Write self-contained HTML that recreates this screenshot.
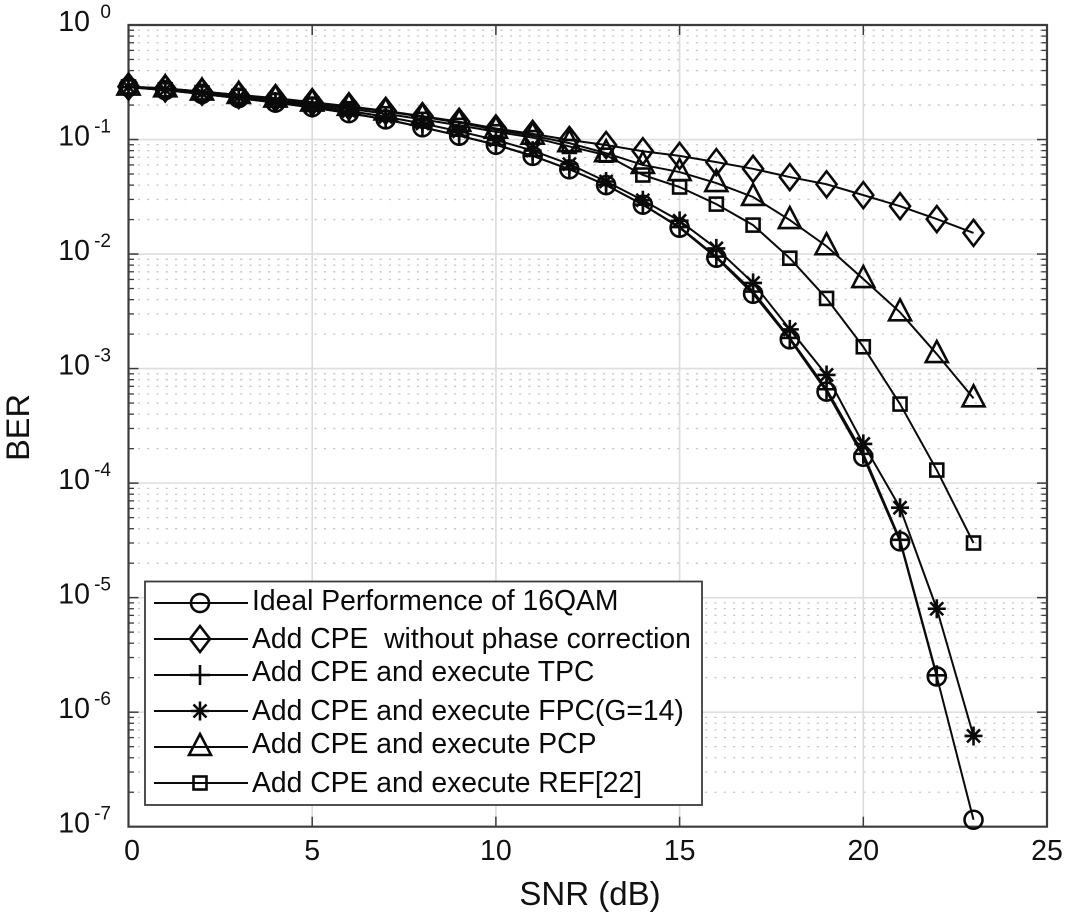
<!DOCTYPE html>
<html lang="en">
<head>
<meta charset="utf-8">
<title>BER vs SNR</title>
<style>
html,body{margin:0;padding:0;background:#fff;}
svg{display:block;font-family:"Liberation Sans",sans-serif;}
</style>
</head>
<body>
<svg id="chart" xmlns="http://www.w3.org/2000/svg" width="1065" height="916" viewBox="0 0 1065 916"></svg>
<script>
const snr = [0,1,2,3,4,5,6,7,8,9,10,11,12,13,14,15,16,17,18,19,20,21,22,23];
const berIdeal = [.287,.27,.25,.23,.21,.192,.17,.15,.128,.108,.09,.072,.055,.04,.027,.017,.0093,.0045,.0018,.00063,.00017,3.1e-5,2.05e-6,1.15e-7];
const berNoCorrection = [.29,.28,.262,.245,.23,.212,.195,.178,.16,.143,.125,.112,.099,.0895,.079,.072,.0635,.0555,.047,.0407,.0327,.0262,.0202,.0153];
const berTpc = [.287,.27,.25,.23,.21,.19,.17,.15,.128,.108,.09,.072,.055,.04,.027,.0172,.0095,.0047,.00185,.00066,.00018,3.2e-5,2.1e-6];
const berFpc = [.288,.272,.254,.235,.215,.197,.178,.158,.138,.118,.099,.08,.061,.043,.0295,.0195,.0112,.0056,.0022,.00088,.00022,6.1e-5,8e-6,6.2e-7];
const berPcp = [.29,.28,.262,.245,.228,.21,.193,.176,.158,.14,.122,.108,.093,.076,.06,.052,.0417,.0315,.0198,.0117,.00605,.0031,.00134,.00055];
const berRef = [.288,.272,.255,.238,.22,.203,.186,.168,.15,.133,.117,.104,.087,.073,.049,.0385,.0273,.0179,.0092,.0041,.00155,.00049,.00013,3e-5];
const xTicks = [0,5,10,15,20,25];
const yExponents = [0,-1,-2,-3,-4,-5,-6,-7];
const minorFactors = [2,3,4,5,6,7,8,9];
const legendLabels = ["Ideal Performence of 16QAM","Add CPE\u00a0 without phase correction","Add CPE and execute TPC","Add CPE and execute FPC(G=14)","Add CPE and execute PCP","Add CPE and execute REF[22]"];

const NS = "http://www.w3.org/2000/svg";
const svg = document.getElementById("chart");
const L = 128.5, R = 1047, T = 25, B = 826.7;
const sx = v => L + (R - L) * v / 25;
const sy = v => T + (B - T) * (-Math.log10(v)) / 7;

function make(tag, attrs, parent, text) {
  const el = document.createElementNS(NS, tag);
  for (const k in attrs) el.setAttribute(k, attrs[k]);
  if (text !== undefined) el.textContent = text;
  (parent || svg).appendChild(el);
  return el;
}

const grid = make("g", {});


yExponents.slice(1).forEach(e => {
  minorFactors.forEach(f => {
    const y = sy(f * Math.pow(10, e));
    make("line", {x1:L,x2:R,y1:y,y2:y,stroke:"#c6c6c6","stroke-width":1.3,"stroke-dasharray":"2.2 7.1"}, grid);
  });
});
yExponents.forEach(e => {
  const y = sy(Math.pow(10, e));
  make("line", {x1:L,x2:R,y1:y,y2:y,stroke:"#dedede","stroke-width":1.6}, grid);
});
xTicks.forEach(v => {
  make("line", {x1:sx(v),x2:sx(v),y1:T,y2:B,stroke:"#dcdcdc","stroke-width":1.6}, grid);
});

const axes = make("g", {});


const tickColor = "#3c3c3c";
xTicks.forEach(v => {
  const x = sx(v);
  make("line", {x1:x,x2:x,y1:B,y2:B-10,stroke:tickColor,"stroke-width":1.5}, axes);
  make("line", {x1:x,x2:x,y1:T,y2:T+10,stroke:tickColor,"stroke-width":1.5}, axes);
  const t = make("text", {x:v===0?132:x,y:860,"font-size":28.5,"text-anchor":"middle",fill:"#111"}, axes, String(v));
  
  
});
yExponents.forEach(e => {
  const y = sy(Math.pow(10, e));
  make("line", {x1:L,x2:L+10,y1:y,y2:y,stroke:tickColor,"stroke-width":1.5}, axes);
  make("line", {x1:R,x2:R-10,y1:y,y2:y,stroke:tickColor,"stroke-width":1.5}, axes);
  if (e > -7) minorFactors.forEach(f => {
    const my = sy(f * Math.pow(10, e - 1));
    make("line", {x1:L,x2:L+5.5,y1:my,y2:my,stroke:tickColor,"stroke-width":1.3}, axes);
    make("line", {x1:R,x2:R-5.5,y1:my,y2:my,stroke:tickColor,"stroke-width":1.3}, axes);
  });
  const t = make("text", {x:90,y:y+6,"font-size":28.5,"text-anchor":"end",fill:"#111"}, axes, "10");
  
  
  const s = make("text", {x:111,y:y-7,"font-size":19,"text-anchor":"end",fill:"#111"}, axes, String(e));
  
  
});
make("path", {d:`M${L} ${T}H${R}V${B}H${L}Z`,fill:"none",stroke:"#3c3c3c","stroke-width":2.2}, axes);

const xTitle = make("text", {x:590,y:905,"font-size":33,"text-anchor":"middle",fill:"#111"}, svg, "SNR (dB)");


const yTitle = make("text", {x:0,y:0,"font-size":32.5,"text-anchor":"middle",fill:"#111",transform:"translate(29 427.5) rotate(-90)"}, svg, "BER");



function marker(kind, x, y, parent) {
  const st = {fill:"none",stroke:"#0a0a0a","stroke-width":2.6};
  const shape = (tag, a) => make(tag, Object.assign({}, st, a), parent);
  if (kind === "circle") shape("circle", {cx:x,cy:y,r:9});
  else if (kind === "diamond") shape("path", {d:`M${x} ${y-13}L${x+10} ${y}L${x} ${y+13}L${x-10} ${y}Z`});
  else if (kind === "plus") shape("path", {d:`M${x-10} ${y}H${x+10}M${x} ${y-10}V${y+10}`});
  else if (kind === "star") shape("path", {d:`M${x-9} ${y}H${x+9}M${x} ${y-9.5}V${y+9.5}M${x-6.5} ${y-6.5}L${x+6.5} ${y+6.5}M${x-6.5} ${y+6.5}L${x+6.5} ${y-6.5}`});
  else if (kind === "triangle") shape("path", {d:`M${x} ${y-13}L${x+11} ${y+8}H${x-11}Z`});
  else if (kind === "square") shape("rect", {x:x-6.5,y:y-6.5,width:13,height:13});
}

function drawSeries(name, values, kind) {
  const g = make("g", {});
  
  
  const pts = values.map((v, i) => sx(snr[i]) + "," + sy(v)).join(" ");
  make("polyline", {points:pts,fill:"none",stroke:"#0a0a0a","stroke-width":2}, g);
  values.forEach((v, i) => marker(kind, sx(snr[i]), sy(v), g));
}
drawSeries("series-ideal", berIdeal, "circle");
drawSeries("series-no-correction", berNoCorrection, "diamond");
drawSeries("series-tpc", berTpc, "plus");
drawSeries("series-fpc", berFpc, "star");
drawSeries("series-pcp", berPcp, "triangle");
drawSeries("series-ref22", berRef, "square");

const legend = make("g", {});


make("rect", {x:145,y:581.5,width:557,height:223.5,fill:"#fff",stroke:"#3c3c3c","stroke-width":1.8}, legend);
const legendKinds = ["circle","diamond","plus","star","triangle","square"];
const legendLineY = [603,639,675,711,747,783];
const legendTextY = [610,648,681,720,753,792];
legendLabels.forEach((label, i) => {
  const row = make("g", {}, legend);
  
  
  make("line", {x1:154,x2:248,y1:legendLineY[i],y2:legendLineY[i],stroke:"#0a0a0a","stroke-width":1.9}, row);
  marker(legendKinds[i], 200, legendLineY[i], row);
  make("text", {x:252,y:legendTextY[i],"font-size":28.3,fill:"#0a0a0a"}, row, label);
});
</script>
</body>
</html>
